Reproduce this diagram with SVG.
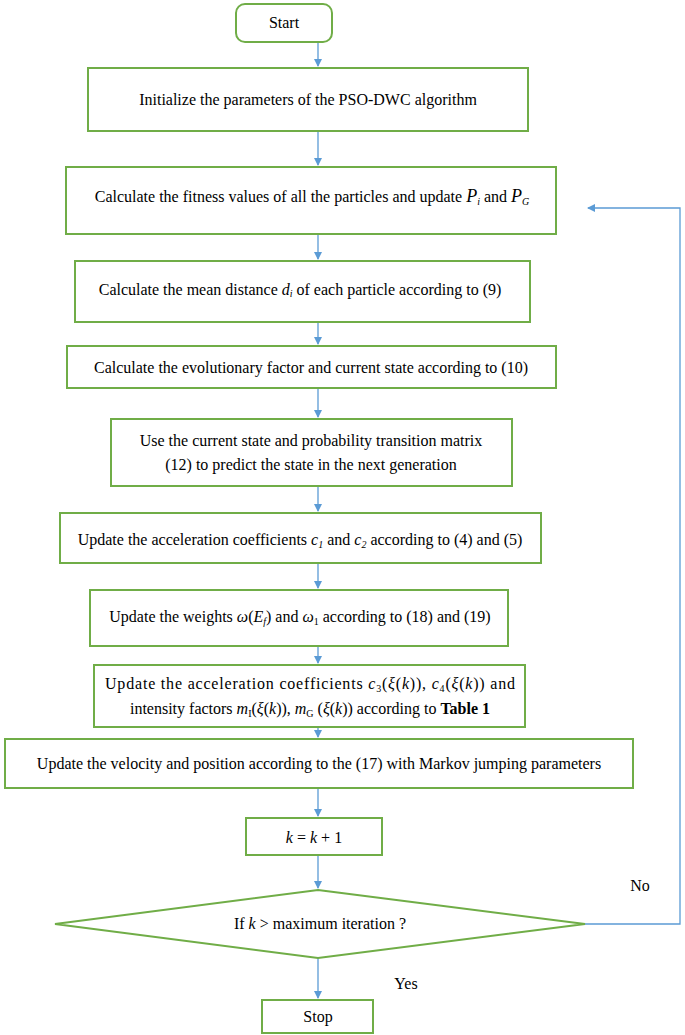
<svg xmlns="http://www.w3.org/2000/svg" width="685" height="1035" viewBox="0 0 685 1035">
<style>
.b{fill:#fff;stroke:#70ad47;stroke-width:2}
.t{font-family:'Liberation Serif','Times New Roman','DejaVu Serif',serif;font-size:16px;fill:#000;text-anchor:middle}
.c{stroke:#5b9bd5;stroke-width:1.3;fill:none}
</style>
<defs><marker id="a" markerWidth="8" markerHeight="8" refX="7" refY="4" orient="auto" markerUnits="userSpaceOnUse"><path d="M0,0L8,4L0,8z" fill="#5b9bd5"/></marker></defs>
<rect width="685" height="1035" fill="#fff"/>
<g id="connectors">
<path class="c" d="M318,42V66" marker-end="url(#a)"/>
<path class="c" d="M318,131V165" marker-end="url(#a)"/>
<path class="c" d="M318,234V259" marker-end="url(#a)"/>
<path class="c" d="M318,322V344" marker-end="url(#a)"/>
<path class="c" d="M318,388V417" marker-end="url(#a)"/>
<path class="c" d="M318,486V511" marker-end="url(#a)"/>
<path class="c" d="M318,563V588" marker-end="url(#a)"/>
<path class="c" d="M318,646V663" marker-end="url(#a)"/>
<path class="c" d="M318,727V737" marker-end="url(#a)"/>
<path class="c" d="M318,788V816" marker-end="url(#a)"/>
<path class="c" d="M318,855V888" marker-end="url(#a)"/>
<path class="c" d="M318,958V998" marker-end="url(#a)"/>
<path class="c" d="M585,924H680V208H588" marker-end="url(#a)"/>
</g>
<g id="start"><rect class="b" x="236" y="4" width="96" height="38" rx="9"/><text class="t" x="284" y="28">Start</text></g>
<g id="init"><rect class="b" x="88" y="68" width="440" height="63"/><text class="t" x="308" y="105">Initialize the parameters of the PSO-DWC algorithm</text></g>
<g id="fitness"><rect class="b" x="66" y="167" width="490" height="67"/><text class="t" x="312" y="202">Calculate the fitness values of all the particles and update  <tspan font-style="italic" font-size="18">P</tspan><tspan font-style="italic" font-size="10" dy="3">i</tspan><tspan dy="-3"> and  </tspan><tspan font-style="italic" font-size="18">P</tspan><tspan font-style="italic" font-size="10" dy="3">G</tspan></text></g>
<g id="meandist"><rect class="b" x="75" y="261" width="455" height="61"/><text class="t" x="300" y="295">Calculate the mean distance <tspan font-style="italic">d</tspan><tspan font-style="italic" font-size="10" dy="2">i</tspan><tspan dy="-2"> of each particle according to (9)</tspan></text></g>
<g id="evol"><rect class="b" x="67" y="346" width="489" height="42"/><text class="t" x="311" y="373">Calculate the evolutionary factor and current state according to (10)</text></g>
<g id="predict"><rect class="b" x="111" y="419" width="401" height="67"/><text class="t" x="311" y="446">Use the current state and probability transition matrix</text><text class="t" x="311" y="470">(12) to predict the state in the next generation</text></g>
<g id="accel"><rect class="b" x="60" y="513" width="481" height="50"/><text class="t" x="300" y="545">Update the acceleration coefficients <tspan font-style="italic">c</tspan><tspan font-style="italic" font-size="10" dy="3">1</tspan><tspan dy="-3"> and </tspan><tspan font-style="italic">c</tspan><tspan font-style="italic" font-size="10" dy="3">2</tspan><tspan dy="-3"> according to (4) and (5)</tspan></text></g>
<g id="weights"><rect class="b" x="90" y="590" width="418" height="56"/><text class="t" x="300" y="622">Update the weights <tspan font-style="italic">ω</tspan>(<tspan font-style="italic">E</tspan><tspan font-style="italic" font-size="10" dy="3">f</tspan><tspan dy="-3">) and </tspan><tspan font-style="italic">ω</tspan><tspan font-size="10" dy="3">1</tspan><tspan dy="-3"> according to (18) and (19)</tspan></text></g>
<g id="accel2"><rect class="b" x="94" y="665" width="431" height="62"/><text class="t" x="310" y="689" textLength="410" lengthAdjust="spacing">Update the acceleration coefficients <tspan font-style="italic">c</tspan><tspan font-size="10" dy="3">3</tspan><tspan dy="-3">(</tspan><tspan font-style="italic">ξ</tspan>(<tspan font-style="italic">k</tspan>)), <tspan font-style="italic">c</tspan><tspan font-size="10" dy="3">4</tspan><tspan dy="-3">(</tspan><tspan font-style="italic">ξ</tspan>(<tspan font-style="italic">k</tspan>)) and</text><text class="t" x="310" y="714">intensity factors <tspan font-style="italic">m</tspan><tspan font-size="10" dy="3">I</tspan><tspan dy="-3">(</tspan><tspan font-style="italic">ξ</tspan>(<tspan font-style="italic">k</tspan>)), <tspan font-style="italic">m</tspan><tspan font-size="10" dy="3">G</tspan><tspan dy="-3"> (</tspan><tspan font-style="italic">ξ</tspan>(<tspan font-style="italic">k</tspan>)) according to <tspan font-weight="bold">Table 1</tspan></text></g>
<g id="velocity"><rect class="b" x="5" y="739" width="628" height="49"/><text class="t" x="319" y="769">Update the velocity and position according to the (17) with Markov jumping parameters</text></g>
<g id="kinc"><rect class="b" x="246" y="818" width="136" height="37"/><text class="t" x="314" y="843"><tspan font-style="italic">k</tspan> = <tspan font-style="italic">k</tspan> + 1</text></g>
<g id="decision"><polygon class="b" points="318,890 585,924 318,958 55,924"/><text class="t" x="320" y="929">If <tspan font-style="italic">k</tspan> &gt; maximum iteration ?</text></g>
<g id="stop"><rect class="b" x="262" y="1000" width="111" height="33"/><text class="t" x="318" y="1022">Stop</text></g>
<text class="t" x="640" y="891">No</text>
<text class="t" x="406" y="989">Yes</text>
</svg>
